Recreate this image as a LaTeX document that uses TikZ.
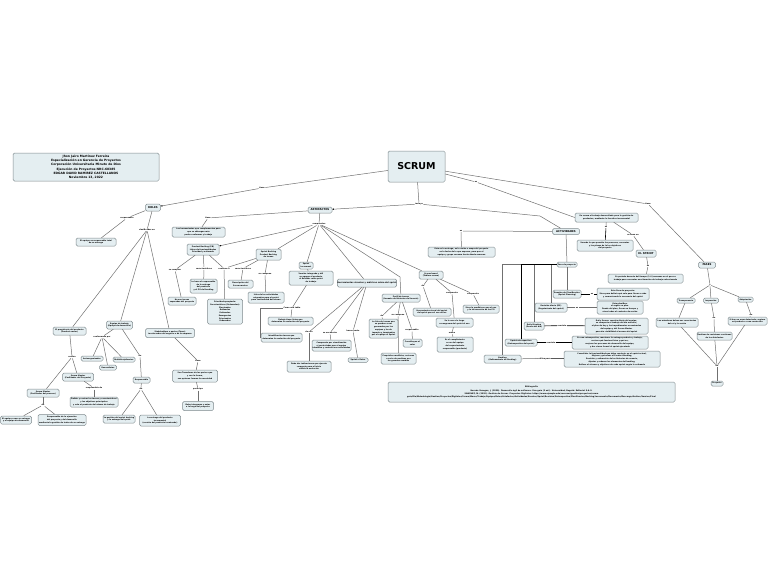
\documentclass[tikz,border=0pt]{standalone}
\usepackage{fontspec}
\setmainfont{DejaVu Sans}
\usetikzlibrary{arrows.meta}
\definecolor{boxfill}{HTML}{E4EEF1}
\definecolor{boxline}{HTML}{7F8A8D}
\definecolor{edgeline}{HTML}{707070}
\tikzset{
  concept/.style 2 args={draw=boxline,fill=boxfill,line width=0.5pt,rounded corners=1.4pt,
    align=center,inner sep=0pt,text=black,minimum width=#1,minimum height=#2,
    font=\fontsize{1.85}{2.75}\selectfont\bfseries},
  topic/.style 2 args={concept={#1}{#2},font=\fontsize{2.6}{3}\selectfont\bfseries},
  linklabel/.style={inner sep=0.4pt,align=center,font=\fontsize{1.9}{2.3}\selectfont\bfseries},
  edge/.style={draw=edgeline,line width=0.5pt},
  heavy/.style={draw=black,line width=0.8pt},
  tip/.style={edge,-{Latex[length=1.6pt,width=1.6pt,black]}}
}
\begin{document}
\begin{tikzpicture}[x=1pt,y=-1pt]
  \useasboundingbox (0,0) rectangle (768,578);

  % main concepts
  \node[concept={146}{28},font=\fontsize{3}{4.2}\selectfont\bfseries](title) at (86,167) {Jhon Jairo Martinez Ferreira\\Especialización en Gerencia de Proyectos\\Corporación Universitaria Minuto de Dios\\Ejecución de Proyectos NRC-68385\\EDGAR DAVID RAMIREZ CASTELLANOS\\Noviembre 13, 2022};
  \node[concept={57}{31},font=\fontsize{9.5}{10}\selectfont\bfseries](scrum) at (416.5,166.5) {SCRUM};
  \node[topic={15}{7}](roles) at (153,207.5) {ROLES};
  \node[topic={24}{6}](artef) at (320,210) {ARTEFACTOS};
  \node[topic={27}{6}](activ) at (566,231.5) {ACTIVIDADES};
  \node[topic={17}{6}](fases) at (707,265) {FASES};

  \node[linklabel](l-tiene) at (262,188) {tiene};
  \node[linklabel](l-incluye) at (419,204) {incluye};
  \node[linklabel](l-es) at (476,182) {es};
  \node[linklabel](l-tiene2) at (648,204) {tiene};
  \coordinate(c-activ) at (540,216);

  % roles
  \node[linklabel](r-resp) at (127,218) {responsable};
  \node[linklabel](r-clas) at (147,230) {clasificados en};
  \node[concept={40}{8}](r-equipo) at (96,242) {El equipo es responsable total\\de su entrega};
  \node[concept={33}{8}](r-po) at (69.5,331) {El propietario del producto\\(Product owner)};
  \node[concept={26}{8}](r-dev) at (119.5,325) {Equipo de trabajo\\(Equipo de desarrollo)};
  \node[concept={49}{9}](r-stake) at (170,333) {Stakeholders o partes (Team)\\involucradas del negocio o de la empresa};
  \node[linklabel](r-realiza) at (72,357) {realiza};
  \node[concept={32}{8}](r-sm) at (43,393) {Scrum Master\\(Facilitador del proceso)};
  \node[concept={31}{8}](r-sm2) at (78,377) {Scrum Master\\(Facilitador del Proyecto)};
  \node[linklabel](r-respde) at (94,388) {responsable de};
  \node[concept={48}{10}](r-definir) at (94,402) {Definir y revisar las tareas y características\\y los objetivos principales\\y vela el producto del mismo de trabajo};
  \node[linklabel](r-de) at (43,405) {de};
  \node[concept={31}{8}](r-entrega) at (16,420) {El equipo como su entrega\\y el equipo de desarrollo};
  \node[concept={48}{11}](r-ejec) at (62,420) {Responsable de la ejecución\\del proyecto y del desarrollo\\mediante la gestión de todos de su entrega};
  \node[linklabel](r-conf) at (102,337) {conformado por};
  \node[concept={22}{5}](r-auto) at (92,358.5) {Autoorganizados};
  \node[concept={17}{5}](r-gen) at (108,367.5) {Generalistas};
  \node[concept={22}{5}](r-multi) at (124,359.5) {Multidisciplinarios};
  \node[linklabel](r-de2) at (140,356) {de};
  \node[concept={17}{6}](r-respon) at (141.5,380) {Responsable};
  \node[linklabel](r-de3) at (141,389) {de};
  \node[concept={32}{8}](r-gestion) at (119,419) {La gestión del sprint backlog\\y la entrega del sprint};
  \node[concept={41}{11}](r-incr) at (160,420.5) {La entrega del producto\\incremental\\(versión del producto terminado)};
  \node[linklabel](r-tiene) at (198,361) {tiene};
  \node[concept={45}{12}](r-toma) at (195,376) {Son Tomadores de las partes que\\y con la forma,\\son quienes forman la necesidad};
  \node[linklabel](r-part) at (198,389) {participa};
  \node[concept={31}{9}](r-integra) at (198,406) {Debe integrarse y estar\\a lo largo del proyecto};

  % artefactos
  \node[linklabel](a-tiene) at (208,218) {tiene};
  \node[concept={53}{10}](a-herr) at (198.5,232) {Las herramientas que complementan para\\que se obtengan más\\poder conformar y trabajo};
  \node[linklabel](a-comp) at (319,224) {compuestos};
  \node[concept={32}{11}](a-pb) at (203,249.5) {Product Backlog (PB)\\Listar de funcionalidades\\Prioridad y estimada};
  \node[concept={25}{11}](a-sb) at (268.5,254.5) {Sprint Backlog\\Product Backlog\\de tareas};
  \node[concept={14}{7}](a-inc) at (306,265.5) {Sprint\\Increment};
  \node[concept={56}{8},font=\fontsize{2.1}{2.6}\selectfont\bfseries](a-visual) at (367,283) {Herramientas visuales y métricas sobre del sprint};
  \node[concept={38}{8}](a-perfil) at (401,298) {Perfil de tareas\\(formato de Historias de Usuario)};
  \node[concept={24}{8}](a-board) at (431,275) {Scrum board\\(Tablero scrum)};
  \coordinate(c-perfil) at (400,277);

  \node[linklabel](a-cumplen) at (175,270) {se cumplen};
  \node[linklabel](a-carac) at (204,268.5) {características};
  \node[linklabel](a-cont) at (224,268.5) {contiene a};
  \node[linklabel](a-carac2) at (243,268.5) {características};
  \node[linklabel](a-compone) at (265,274) {se compone};
  \node[concept={27}{14}](a-hace) at (203.5,286) {Lo hace el responsable\\de la entrega\\del producto\\y el PO del backlog};
  \node[concept={28}{8}](a-nosol) at (182,301) {No son tareas\\separadas del proyecto};
  \node[concept={35}{25}](a-prior) at (225,311.5) {Prioridad apropiada:\\Características (Ordenadas):\\Planteadas\\Refinadas\\Estimadas\\Emergentes\\Priorizadas\\Ordenadas};
  \node[concept={25}{8}](a-desc) at (240.5,284) {Descripción del\\Scrum master};
  \node[concept={36}{11}](a-lista) at (266,297.5) {Lista de las actividades\\asignadas para el sprint\\para continuidad del mismo};
  \node[concept={44}{14}](a-vers) at (311,278) {Versión integrada y útil\\se agrega al producto\\al finalizar cada sprint\\de trabajo};
  \node[linklabel](a-tabla) at (292,308) {Como una tabla};
  \coordinate(c-tabla) at (260,308);
  \node[concept={45}{8}](a-medir) at (290.5,321) {Debajo tiene listas que\\determina la evolución del proyecto};
  \node[concept={41}{9}](a-tabla2) at (281.5,337.5) {Identificación tareas que\\determina la evolución del proyecto};

  \node[linklabel](a-deella) at (309,332) {de ella};
  \node[linklabel](a-encuen) at (330,333) {se encuentra};
  \node[linklabel](a-parte) at (353,331) {hacen parte};
  \node[concept={39}{11}](a-compu) at (331.5,345.5) {Compuesto por visualización\\si controladas que el equipo\\identifica y controla sus actividades};
  \node[concept={44}{11}](a-indic) at (309,366.5) {Debe dar indicaciones que ejecuta\\comparte para el inicio\\visible la evolución};
  \node[concept={20}{4.5}](a-retro) at (358,360) {Sprint o Retro};

  \node[linklabel](a-dep) at (382,316) {de};
  \node[linklabel](a-secom) at (398,315) {se compone};
  \node[linklabel](a-respo) at (412,330) {responsable};
  \node[concept={29}{19}](a-listat) at (383.5,328.5) {La lista de tareas que\\se pueden crear\\generadas por los\\equipos y los de\\impacto y terminadas\\por el equipo al Sprint};
  \node[concept={35}{11}](a-prop) at (398.5,358.5) {Propósitos medibles, acciones\\a corto de mediano por\\los grandes cambios};
  \node[concept={19}{8}](a-valor) at (412.5,343) {Constituyen el\\valor};

  \node[linklabel](b-de) at (423,286) {de};
  \node[linklabel](b-comp) at (452,293) {compuesta};
  \node[linklabel](b-comp2) at (473,294) {compuesta};
  \node[linklabel](b-orden) at (452,333) {orden};
  \node[concept={38}{8}](b-herr) at (432,312) {Herramienta visual del sprint\\del sprint para el uso de los};
  \node[concept={37}{9}](b-lista) at (454.5,322.5) {Se lo usa a lo largo\\cronograma del sprint al uso};
  \node[concept={36}{8}](b-sirve) at (481,309) {Sirve la medida en que el uso\\y la información de los PO};
  \node[concept={36}{15}](b-cumple) at (455,344.5) {Es el cumplimiento\\es un del equipo\\del requerimiento\\responsable (producto)};

  % actividades
  \node[linklabel](c-es) at (461,231) {es};
  \node[concept={67}{10}](c-vision) at (461.5,252) {Esta es la entrega, es la visión o mapa del proyecto\\es la fecha de lo que esperan, para que el\\equipo y grupo conozca hasta dónde avanzan};
  \node[concept={20}{5}](c-fase) at (567,264.5) {Fase de proyecto};
  \node[concept={28}{8}](c-plan) at (567,294) {Reunión de Planificación\\(Sprint Planning)};
  \node[concept={32}{9}](c-rev) at (551,307.5) {Revisión diaria (DS)\\(Seguimiento del sprint)};
  \node[concept={20}{8}](c-daily) at (534,326) {Daily Meeting\\(Scrum del día)};
  \node[concept={32}{7}](c-retro) at (521,342.5) {Sprint retrospectiva\\(Retrospectiva del sprint)};
  \node[concept={37}{8}](c-back) at (502.5,359) {Backlog\\(Refinamiento de Backlog)};
  \node[linklabel](c-l1) at (592,294) {es};
  \node[linklabel](c-l2) at (577,307.5) {es};
  \node[linklabel](c-l3) at (562,325.5) {consiste};
  \node[linklabel](c-l4) at (551,342.5) {consiste};
  \node[linklabel](c-l5) at (543,358.5) {se utiliza para};
  \node[concept={52}{12}](c-t1) at (623,294) {Esta Fase de proyecto:\\Sirve para definir qué sale para llevar a cabo\\y comunicando lo necesario del sprint};
  \node[concept={46}{13}](c-t2) at (620,307.5) {Esta planificar\\el seguir su plan.\\Donde del plan, llevar en tiempo y\\otros todos al contexto de acción};
  \node[concept={63}{16}](c-t3) at (616.5,326) {Daily Scrum: reunión diaria del equipo,\\se comparte el trabajo del día anterior,\\el plan de hoy y los impedimentos encontrados\\del equipo y del Scrum Master\\para dar visibilidad al avance del sprint};
  \node[concept={76}{13}](c-t4) at (610,342.5) {Es una retrospectiva, mantener la entrega producto y trabajo,\\revisar qué funcionó bien y qué no,\\mejorar los procesos de desarrollo del equipo,\\y dar cierre formal al sprint ejecutado};
  \node[concept={96}{16}](c-t5) at (612,359) {Consolidar la funcionalidad que debe construir en el sprint actual,\\Mejorar y priorizar el Product Backlog,\\Revisión y estimación de las historias de usuario,\\Ajustar y ordenar los elementos del backlog,\\Refinar el alcance y objetivos de cada sprint según lo estimado};

  % el sprint
  \node[concept={63}{9}](s-def) at (606.5,217.5) {En scrum el trabajo desarrollado para la gestión de\\productos, mediante lo iterativo incremental};
  \node[linklabel](s-es) at (606,227) {es};
  \node[concept={56}{11}](s-usa) at (605,245.5) {Usando lo que permite los procesos, concretar\\y los plazos de la los objetivos\\del proyecto};
  \node[linklabel](s-basa) at (633,235) {se basa en};
  \node[topic={20}{7}](s-sprint) at (646,253.5) {EL SPRINT};
  \node[linklabel](s-es2) at (648,266) {es};
  \node[concept={75}{9}](s-per) at (645.5,278.5) {Es periodo durante del tiempo (1-4) semanas en el que se\\trabaja para concretar una iteración de trabajo seleccionado};

  % fases
  \node[linklabel](f-y) at (710,285) {y};
  \node[concept={18}{5}](f-trans) at (686,300.5) {Transparencia};
  \node[concept={15}{5}](f-insp) at (711,300.5) {Inspección};
  \node[concept={15}{5}](f-adap) at (745.5,299.5) {Adaptación};
  \node[linklabel](f-d1) at (714,318) {de};
  \node[linklabel](f-d2) at (751,315) {de};
  \node[concept={42}{9}](f-miem) at (677,322.5) {Los miembros deben ser conscientes\\del rol y la acción};
  \node[concept={35}{8}](f-real) at (714.5,336) {Realizar de revisiones continuas\\de los Artefactos};
  \node[concept={39}{8}](f-error) at (747.5,321) {Si hay un error detectado, sugiere\\un producto o una corrección};
  \node[linklabel](f-d3) at (717,366) {de};
  \node[concept={12}{5}](f-proy) at (717,383.5) {Proyecto};

  % bibliografia
  \node[concept={287}{20},font=\fontsize{1.95}{3.1}\selectfont\bfseries](biblio) at (531.5,392) {Bibliografía\\Hernán Vanegas, J. (2020). Desarrollo ágil de software. Una guía (2 ed.). Universidad, Bogotá: Editorial S.A.S.\\SANCHEZ, M. (2020). Gestión de Scrum. Proyectos Digitales: https://www.ejemplo.edu/recursos/gestion/proyectos/scrum\\guia/file/Metodologia/Gestion/Proyectos/Digitales/Scrum/Marco/Trabajo/Equipos/Roles/Artefactos/Actividades/Eventos/Sprint/Revision/Retrospectiva/Planificacion/Backlog/Incremento/Documento/Descarga/Archivo/Version/Final};

  % connectors
  \foreach \a/\b in {scrum/l-tiene,scrum/l-incluye,scrum/l-es,scrum/l-tiene2,
      l-es/s-def.west,l-incluye/c-activ,c-activ/activ,l-tiene2/fases,
      roles/r-resp,r-resp/r-equipo,roles/r-clas,r-clas/r-po,r-clas/r-dev,r-clas/r-stake,
      r-po/r-realiza,r-realiza/r-sm,r-realiza/r-sm2,r-sm2/r-respde,r-respde/r-definir,
      r-sm/r-de,r-de/r-entrega,r-de/r-ejec,r-dev/r-conf,r-conf/r-auto,r-conf/r-gen,r-conf/r-multi,
      r-dev/r-de2,r-de2/r-respon,r-respon/r-de3,r-de3/r-gestion,r-de3/r-incr,
      r-stake/r-tiene,r-tiene/r-toma,r-toma/r-part,r-part/r-integra,
      artef/a-tiene,a-tiene/a-herr,artef/a-comp,a-comp/a-sb,a-comp/a-inc,a-comp/a-visual,
      a-comp/c-perfil,c-perfil/a-perfil,a-comp/a-board,
      a-pb/a-cumplen,a-cumplen/a-nosol,a-pb/a-carac,a-carac/a-hace,a-pb/a-cont,a-cont/a-prior,
      a-sb/a-cont,a-sb/a-carac2,a-carac2/a-desc,a-sb/a-compone,a-compone/a-lista,
      a-inc/a-vers,a-vers/a-tabla,a-tabla/a-medir,a-tabla/c-tabla,
      a-visual/a-deella,a-deella/a-indic,a-visual/a-encuen,a-encuen/a-compu,a-visual/a-parte,a-parte/a-retro,
      a-perfil/a-dep,a-dep/a-listat,a-perfil/a-secom,a-secom/a-prop,a-perfil/a-respo,a-respo/a-valor,
      a-board/b-de,b-de/b-herr,a-board/b-comp,b-comp/b-lista,a-board/b-comp2,b-comp2/b-sirve,
      b-lista/b-orden,b-orden/b-cumple,
      c-es/activ,c-es/c-vision,activ/c-fase,c-fase/c-plan,c-rev/c-l2,c-l2/c-t2,c-back/c-l5,
      s-def/s-basa,s-basa/s-sprint,s-sprint/s-es2,s-es2/s-per,s-def/s-es,
      fases/f-y,f-y/f-trans,f-y/f-insp,f-y/f-adap,f-trans/f-miem,f-insp/f-d1,f-d1/f-real,
      f-adap/f-d2,f-d2/f-error,f-miem/f-d3,f-real/f-d3,f-error/f-d3,f-d3/f-proy}
    \draw[edge] (\a) -- (\b);

  \draw[edge] (c-tabla) |- (a-tabla2.west);

  \foreach \b in {c-back,c-daily,c-rev}
    \draw[edge] (\b.north) |- (c-fase.west);
  \draw[heavy] (c-retro.north) |- (c-fase.west);

  \foreach \a/\b in {s-es/s-usa,c-plan/c-l1,c-l1/c-t1,c-retro/c-l4,c-l4/c-t4,c-l5/c-t5}
    \draw[heavy,line width=0.6pt] (\a) -- (\b);
  \foreach \a/\b in {c-daily/c-l3,c-l3/c-t3}
    \draw[draw=black!65,line width=0.9pt] (\a) -- (\b);

  \foreach \a/\b in {l-tiene/roles,l-incluye/artef,a-comp/a-pb}
    \draw[tip] (\a) -- (\b);
\end{tikzpicture}
\end{document}
